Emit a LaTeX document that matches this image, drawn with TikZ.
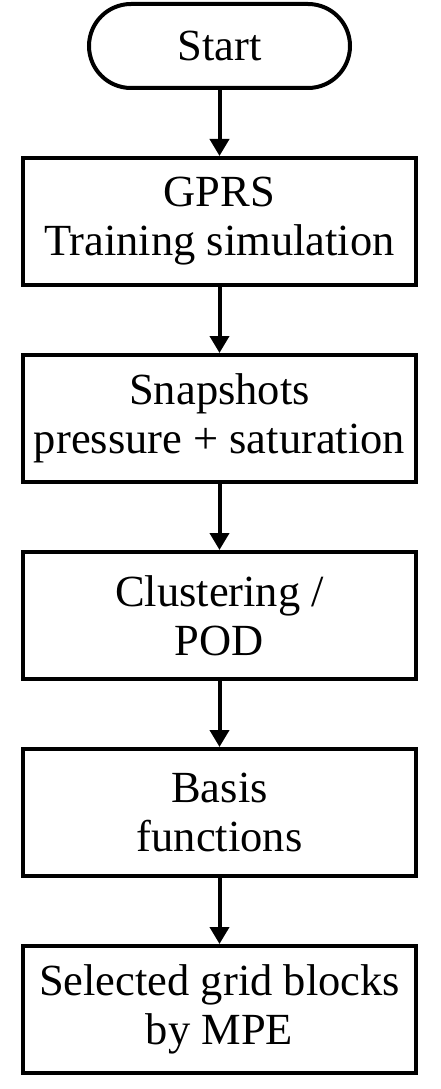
\documentclass[tikz,border=0pt]{standalone}
\usepackage{fontspec}
\setmainfont{Liberation Serif}
\usetikzlibrary{arrows.meta,positioning,shapes.misc}

\tikzset{
  stepbox/.style={draw,line width=4pt,rectangle,minimum width=393pt,minimum height=127pt,align=center,inner sep=0pt},
  startbox/.style={draw,line width=4pt,rounded rectangle,minimum width=261pt,minimum height=84pt,inner sep=0pt},
  flow/.style={line width=4pt,-{Triangle[width=19pt,length=17pt]}}
}

\begin{document}
\begin{tikzpicture}[x=1pt,y=1pt,node distance=66pt,font=\fontsize{44.5}{49}\selectfont]
\useasboundingbox (0,0) rectangle (440,-1089);
\node[startbox] (start) at (219.5,-46) {Start};
\node[stepbox,below=of start] (gprs) {GPRS\\Training simulation};
\node[stepbox,below=of gprs] (snap) {Snapshots\\pressure + saturation};
\node[stepbox,below=of snap] (pod) {Clustering /\\POD};
\node[stepbox,below=of pod] (basis) {Basis\\functions};
\node[stepbox,below=of basis] (mpe) {Selected grid blocks\\by MPE};
\draw[flow] (start) -- (gprs);
\draw[flow] (gprs) -- (snap);
\draw[flow] (snap) -- (pod);
\draw[flow] (pod) -- (basis);
\draw[flow] (basis) -- (mpe);
\end{tikzpicture}
\end{document}
